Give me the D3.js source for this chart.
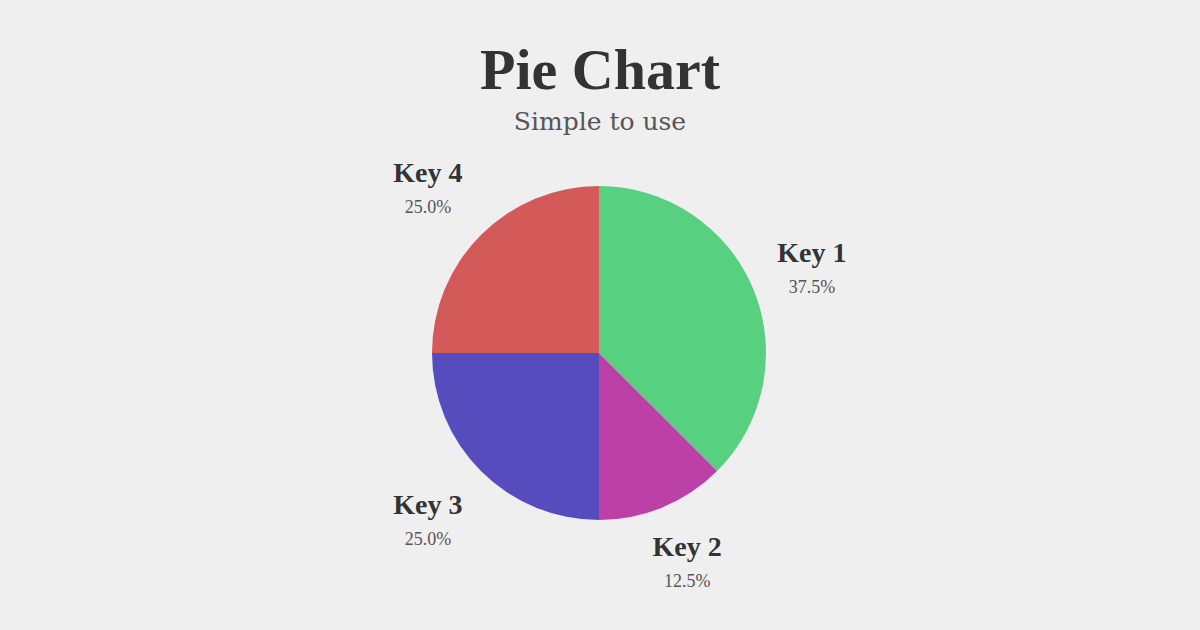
<!DOCTYPE html>
<html>
<head>
<meta charset="utf-8">
<script src="https://cdn.jsdelivr.net/npm/d3@7"></script>
<style>
  html, body { margin: 0; padding: 0; background: #efefef; }
  svg { display: block; }
</style>
</head>
<body>
<div id="chart"></div>
<script>
const width = 1200, height = 630;

// data
const keys = ["Key 1", "Key 2", "Key 3", "Key 4"];
const values = [37.5, 12.5, 25.0, 25.0];
const colors = ["#57d07f", "#bc41a6", "#574cbd", "#d35a58"];

const cx = 599, cy = 353, radius = 167;
const labelRadius = 193;

const svg = d3.select("#chart").append("svg")
    .attr("width", width)
    .attr("height", height);

svg.append("rect")
    .attr("width", width)
    .attr("height", height)
    .attr("fill", "#efefef");

// titles
svg.append("text")
    .attr("x", width / 2)
    .attr("y", 89)
    .attr("text-anchor", "middle")
    .style("font-family", "'Liberation Serif', serif")
    .style("font-weight", "bold")
    .style("font-size", "58px")
    .attr("fill", "#333333")
    .text("Pie Chart");

svg.append("text")
    .attr("x", width / 2)
    .attr("y", 130)
    .attr("text-anchor", "middle")
    .style("font-family", "'DejaVu Serif', serif")
    .style("font-size", "25px")
    .attr("fill", "#555555")
    .text("Simple to use");

const total = d3.sum(values);
const data = keys.map((k, i) => ({key: k, value: values[i], color: colors[i]}));

const pie = d3.pie()
    .value(d => d.value)
    .sort(null);

const arc = d3.arc()
    .innerRadius(0)
    .outerRadius(radius);

const labelArc = d3.arc()
    .innerRadius(labelRadius)
    .outerRadius(labelRadius);

const g = svg.append("g")
    .attr("transform", `translate(${cx},${cy})`);

const arcs = pie(data);

g.selectAll("path")
    .data(arcs)
    .join("path")
    .attr("d", arc)
    .attr("fill", d => d.data.color);

// labels: anchored outside each slice, box pushed outward along the mid angle
const labels = g.selectAll("g.label")
    .data(arcs)
    .join("g")
    .attr("class", "label");

labels.append("text")
    .attr("class", "key")
    .attr("text-anchor", "middle")
    .attr("y", 0)
    .style("font-family", "'Liberation Serif', serif")
    .style("font-weight", "bold")
    .style("font-size", "28px")
    .attr("fill", "#333333")
    .text(d => d.data.key);

labels.append("text")
    .attr("class", "pct")
    .attr("text-anchor", "middle")
    .attr("y", 31)
    .style("font-family", "'Liberation Serif', serif")
    .style("font-size", "18px")
    .attr("fill", "#555555")
    .text(d => (d.data.value / total * 100).toFixed(1) + "%");

labels.each(function(d) {
    const node = d3.select(this);
    const box = this.getBBox();
    const [px, py] = labelArc.centroid(d);
    const len = Math.hypot(px, py);
    const vx = px / len, vy = py / len;
    const vs = 1 / Math.max(Math.abs(vx), Math.abs(vy));
    const tx = px + vx * vs * box.width / 2;
    const ty = py + vy * vs * box.height / 2;
    const bx = box.x + box.width / 2, by = box.y + box.height / 2;
    node.attr("transform", `translate(${tx - bx},${ty - by})`);
});
</script>
</body>
</html>
